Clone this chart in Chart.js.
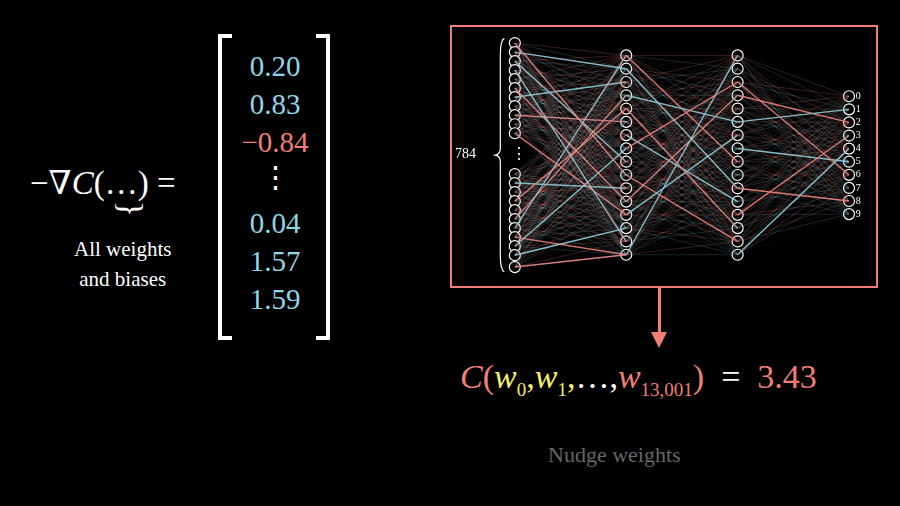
<!DOCTYPE html>
<html><head><meta charset="utf-8">
<script src="https://cdn.jsdelivr.net/npm/chart.js@4"></script>
<style>
body{margin:0;background:#000;width:900px;height:506px;overflow:hidden;position:relative;font-family:"Liberation Serif","DejaVu Serif",serif;color:#fff}
.t{position:absolute;white-space:nowrap}
#box{position:absolute;left:450px;top:25px;width:424px;height:259px;border:2px solid #f27f76}
#wrap{position:absolute;left:450px;top:25px;width:428px;height:263px}
.br{position:absolute;border:4px solid #fff;width:10px;height:298px;top:34px}
.num{position:absolute;left:230px;width:90px;text-align:center;font-size:29px;color:#8fd6e6;font-family:"Liberation Serif",serif}
sub{font-size:19px}
</style></head><body>
<div class="t" style="left:30px;top:163px;font-size:33px">−∇<i>C</i>(…) =</div>
<div class="t" style="left:123px;top:190px;font-size:34px;transform:rotate(90deg);transform-origin:center">}</div>
<div class="t" style="left:74px;top:234px;font-size:21px;text-align:center;line-height:30px">All weights<br>and biases</div>
<div class="br" style="left:218px;border-right:none"></div>
<div class="br" style="left:316px;border-left:none"></div>
<div class="num" style="top:50px">0.20</div>
<div class="num" style="top:88px">0.83</div>
<div class="num" style="top:126px;color:#f27f76">−0.84</div>
<div class="num" style="top:160px;color:#fff">⋮</div>
<div class="num" style="top:207px">0.04</div>
<div class="num" style="top:245px">1.57</div>
<div class="num" style="top:283px">1.59</div>
<div id="box"></div>
<div id="wrap"><canvas id="net"></canvas></div>
<div class="t" style="left:455px;top:146px;font-size:14px">784</div>
<div style="position:absolute;left:658px;top:288px;width:3px;height:45px;background:#f27f76"></div>
<div style="position:absolute;left:651px;top:332px;border-left:8px solid transparent;border-right:8px solid transparent;border-top:16px solid #f27f76"></div>
<div class="t" style="left:460px;top:358px;font-size:34px;color:#f27f76"><i>C</i>(<span style="color:#f5f06a"><i>w</i><sub>0</sub>,<i>w</i><sub>1</sub>,</span><span style="color:#fff">…,</span><i>w</i><sub>13,001</sub>) <span style="color:#fff">&nbsp;=&nbsp;</span> 3.43</div>
<div class="t" style="left:548px;top:442px;font-size:22px;color:#666">Nudge weights</div>
<script>
// layer x positions and node y positions (canvas pixels inside the box)
var layerX = [60, 175, 290, 405];
var inputY = [12,21.5,31,40.5,50,59.5,69,78.5,88,97.5,107, 150,159.5,169,178.5,188,197.5,207,216.5,226,235.5,248];
var hiddenY = [25,39,53,67,81,95,109,123,137,151,165,179,193,207,221,235];
var outputY = [68,81.8,95.6,109.4,123.2,137,150.8,164.6,178.4,192.2];
var outputLabels = ['0','1','2','3','4','5','6','7','8','9'];
// highlighted strong weights: [layer, from, to, sign]
var strong = [[0,0,9,-1],[0,3,14,1],[0,6,2,1],[0,10,12,-1],[0,14,4,-1],[0,17,0,1],[0,19,7,1],[0,21,15,-1],[0,8,5,-1],[0,12,10,1],
  [0,2,8,1],[0,5,11,-1],[0,16,3,-1],[0,20,13,1],[0,1,1,1],[0,18,15,-1],
  [1,1,10,1],[1,4,13,-1],[1,7,2,-1],[1,12,6,1],[1,15,0,1],[1,9,14,-1],[1,3,5,1],[1,0,8,-1],[1,6,11,1],[1,11,3,-1],
  [2,15,4,1],[2,2,6,-1],[2,5,1,1],[2,10,8,-1],[2,12,3,-1],[2,7,5,1],[2,3,2,-1]];
var layers = [inputY, hiddenY, hiddenY, outputY];
var ds = [];
for (var l = 0; l < 3; l++) {
  for (var i = 0; i < layers[l].length; i++) {
    for (var j = 0; j < layers[l+1].length; j++) {
      var k = (i * 2 + j) % 4;
      var c = k == 0 ? 'rgba(242,127,118,0.28)' : k == 1 ? 'rgba(143,214,230,0.22)' : 'rgba(120,120,120,0.08)';
      ds.push({type:'line', data:[{x:layerX[l], y:layers[l][i]},{x:layerX[l+1], y:layers[l+1][j]}], borderColor:c, borderWidth:0.8, pointRadius:0});
    }
  }
}
strong.forEach(function(s){
  ds.push({type:'line', data:[{x:layerX[s[0]], y:layers[s[0]][s[1]]},{x:layerX[s[0]+1], y:layers[s[0]+1][s[2]]}],
    borderColor: s[3] > 0 ? 'rgba(143,214,230,0.9)' : 'rgba(242,127,118,0.9)', borderWidth:1.4, pointRadius:0});
});
layers.forEach(function(ys, l){
  ds.push({type:'scatter', data: ys.map(function(y){return {x:layerX[l], y:y};}),
    pointRadius:5.5, pointBackgroundColor:'#000', pointBorderColor:'#fff', pointBorderWidth:1.2});
});
var labelPlugin = {id:'lbl', afterDatasetsDraw:function(ch){
  var ctx = ch.ctx; ctx.fillStyle='#fff'; ctx.font='10px "Liberation Serif"'; ctx.textBaseline='middle';
  outputY.forEach(function(y,i){ ctx.fillText(outputLabels[i], ch.scales.x.getPixelForValue(412), ch.scales.y.getPixelForValue(y)); });
  ctx.font='16px "Liberation Serif"';
  ctx.fillText('⋮', ch.scales.x.getPixelForValue(56), ch.scales.y.getPixelForValue(130));
  ctx.strokeStyle='#fff'; ctx.lineWidth=1.2; ctx.beginPath();
  var bx=ch.scales.x.getPixelForValue(45), y=ch.scales.y;
  ctx.moveTo(bx+4,y.getPixelForValue(7)); ctx.quadraticCurveTo(bx,y.getPixelForValue(9),bx,y.getPixelForValue(25));
  ctx.lineTo(bx,y.getPixelForValue(123)); ctx.quadraticCurveTo(bx,y.getPixelForValue(129),bx-5,y.getPixelForValue(130));
  ctx.quadraticCurveTo(bx,y.getPixelForValue(131),bx,y.getPixelForValue(137));
  ctx.lineTo(bx,y.getPixelForValue(235)); ctx.quadraticCurveTo(bx,y.getPixelForValue(251),bx+4,y.getPixelForValue(253));
  ctx.stroke();
}};
new Chart(document.getElementById('net'), {
  data:{datasets:ds},
  options:{responsive:true, maintainAspectRatio:false, animation:false, events:[],
    layout:{padding:0},
    plugins:{legend:{display:false}, tooltip:{enabled:false}},
    scales:{x:{type:'linear', min:0, max:428, display:false}, y:{type:'linear', min:0, max:263, reverse:true, display:false}}},
  plugins:[labelPlugin]
});
</script>
</body></html>
